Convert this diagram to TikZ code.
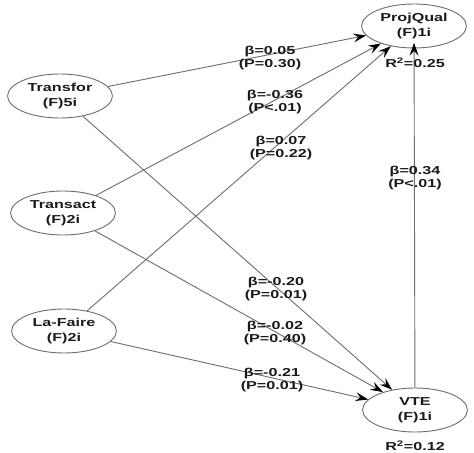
\documentclass[tikz,border=0pt]{standalone}
\usepackage{fontspec}
\setmainfont{Liberation Sans}
\newfontfamily\pathfont[FakeStretch=1.4]{Liberation Sans}
\usetikzlibrary{shapes.geometric,arrows.meta,positioning}
\definecolor{pLine}{HTML}{6E6E6E}
\definecolor{pInk}{HTML}{1A1A1A}
\tikzset{
  latent/.style={ellipse, draw=pLine, line width=0.65pt, minimum width=2.62cm, minimum height=1.1cm,
    inner sep=0pt, align=center, text=pInk, font=\pathfont\bfseries\fontsize{8.2}{10.5}\selectfont},
  coef/.style={inner sep=0pt, align=center, text=pInk, font=\pathfont\bfseries\fontsize{8.2}{9.4}\selectfont},
  link/.style={draw=pLine, line width=0.65pt, -{Stealth[black, length=0.32cm, width=0.22cm, inset=0.12cm]}},
}
\begin{document}
\begin{tikzpicture}[x=0.025cm, y=-0.025cm]
        \useasboundingbox (0,0) rectangle (474,453);
        % constructs
        \node[latent] (projqual) at (414,26) {ProjQual\\(F)1i};
        \node[latent] (transfor) at (60,96) {Transfor\\(F)5i};
        \node[latent] (transact) at (63,213) {Transact\\(F)2i};
        \node[latent] (lafaire) at (64,331) {La-Faire\\(F)2i};
        \node[latent] (vte) at (415,410) {VTE\\(F)1i};
        % paths
        \draw[link] (transfor) -- (projqual);
        \draw[link] (transact) -- (projqual);
        \draw[link] (lafaire) -- (projqual);
        \draw[link] (transfor) -- (vte);
        \draw[link] (transact) -- (vte);
        \draw[link] (lafaire) -- (vte);
        \draw[link, shorten >=-4pt] (vte) -- (projqual);
        % coefficients
        \node[coef] (c1) at (270,58) {β=0.05\\(P=0.30)};
        \node[coef] (c2) at (275,102) {β=-0.36\\(P<.01)};
        \node[coef] (c3) at (281,148) {β=0.07\\(P=0.22)};
        \node[coef] (c4) at (415,178) {β=0.34\\(P<.01)};
        \node[coef] (c5) at (276,289) {β=-0.20\\(P=0.01)};
        \node[coef] (c6) at (275,333) {β=-0.02\\(P=0.40)};
        \node[coef] (c7) at (272,380) {β=-0.21\\(P=0.01)};
        \node[coef] (r2pq) at (415,63) {R\textsuperscript{2}=0.25};
        \node[coef] (r2vte) at (415,446) {R\textsuperscript{2}=0.12};
      \end{tikzpicture}
\end{document}
